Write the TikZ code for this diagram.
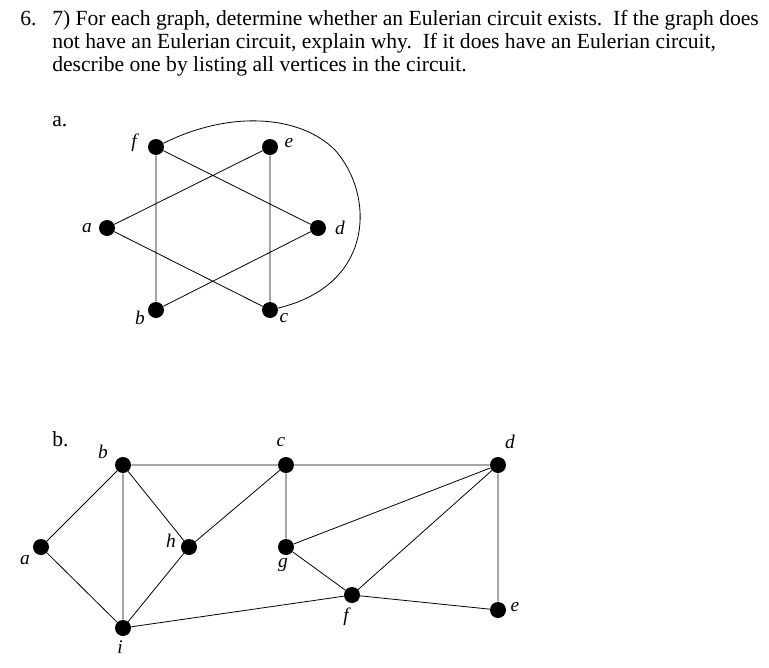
\documentclass[tikz,border=0pt]{standalone}
\usepackage{fontspec}
\setmainfont{Liberation Serif}
\begin{document}
\begin{tikzpicture}[x=0.75pt,y=-0.75pt,
 v/.style={circle,fill=black,inner sep=0pt,minimum size=12pt},
 lb/.style={font=\fontsize{14.5}{16}\selectfont\itshape},
 tx/.style={anchor=base west,inner sep=0pt,font=\fontsize{16.2}{18}\selectfont},
 e/.style={line width=0.6pt}]
\useasboundingbox (0,0) rectangle (769,668);
\node[tx] (t0) at (20,25) {6.};
\node[tx] (t1) at (52,25) {7) For each graph, determine whether an Eulerian circuit exists.\ \ If the graph does};
\node[tx] (t2) at (52,48) {not have an Eulerian circuit, explain why.\ \ If it does have an Eulerian circuit,};
\node[tx] (t3) at (52,71) {describe one by listing all vertices in the circuit.};
\node[tx] (pa) at (52,126) {a.};
\node[tx] (pb) at (52,446) {b.};
% part a
\node[v] (af) at (156,147) {};
\node[v] (ae) at (270,147) {};
\node[v] (aa) at (107,228) {};
\node[v] (ad) at (318,228) {};
\node[v] (ab) at (156,310) {};
\node[v] (ac) at (270,310) {};
\draw[e] (af)--(ab) (ae)--(ac) (aa)--(ae) (aa)--(ac) (af)--(ad) (ab)--(ad);
\draw[e] (af) .. controls (230,110) and (300,115) .. (335,150) .. controls (375,195) and (375,285) .. (ac);
\node[lb] (lf) at (134,143) {f};
\node[lb] (le) at (289,143) {e};
\node[lb] (la) at (87,228) {a};
\node[lb] (ld) at (340,228) {d};
\node[lb] (lb1) at (140,318) {b};
\node[lb] (lc) at (284,318) {c};
% part b
\node[v] (b) at (123,465) {};
\node[v] (c) at (286,465) {};
\node[v] (d) at (498,465) {};
\node[v] (a) at (41,547) {};
\node[v] (h) at (189,547) {};
\node[v] (g) at (286,547) {};
\node[v] (f) at (352,595) {};
\node[v] (ee) at (498,610) {};
\node[v] (i) at (123,628) {};
\draw[e] (b)--(c) (c)--(d) (a)--(b) (a)--(i) (b)--(i) (b)--(h) (h)--(c) (i)--(h)
 (c)--(g) (g)--(d) (g)--(f) (d)--(f) (d)--(ee) (f)--(ee) (i)--(f);
\node[lb] (Lb) at (103,452) {b};
\node[lb] (Lc) at (281,442) {c};
\node[lb] (Ld) at (510,442) {d};
\node[lb] (La) at (25,560) {a};
\node[lb] (Lh) at (171,541) {h};
\node[lb] (Lg) at (283,565) {g};
\node[lb] (Lf) at (346,617) {f};
\node[lb] (Le) at (515,607) {e};
\node[lb] (Li) at (120,647) {i};
\end{tikzpicture}
\end{document}
